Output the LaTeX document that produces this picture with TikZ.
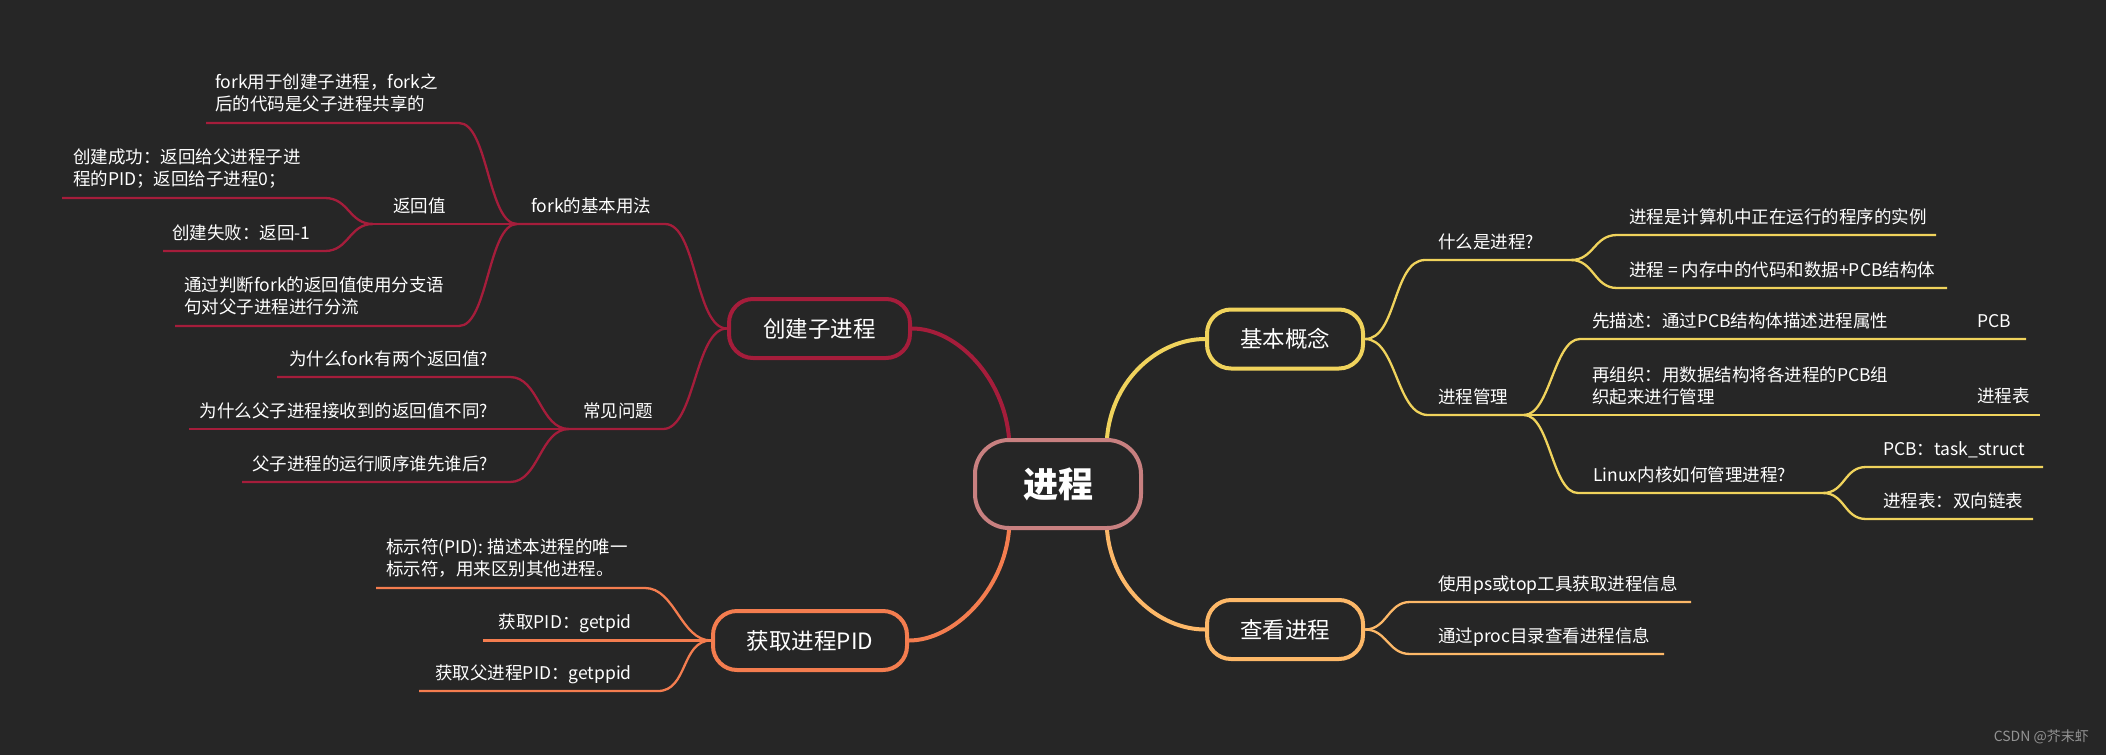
\documentclass[tikz,border=0pt]{standalone}
\usepackage{fontspec}
\setmainfont{Noto Sans CJK SC}
\usetikzlibrary{calc}
\definecolor{bg}{HTML}{262626}
\definecolor{crim}{HTML}{A51D3B}
\definecolor{yel}{HTML}{F0D35C}
\definecolor{lorg}{HTML}{FDB868}
\definecolor{org}{HTML}{F47D4F}
\definecolor{rootc}{HTML}{C88080}
\pgfdeclarelayer{bgl}
\pgfdeclarelayer{lines}
\pgfsetlayers{bgl,lines,main}
\begin{document}
\begin{tikzpicture}[x=1pt,y=-1pt,
  leaf/.style={font=\fontsize{17.5}{22}\selectfont, text=white, inner sep=0pt},
  mlt/.style={leaf, align=left, anchor=north west},
  topic/.style={draw, line width=4pt, rounded corners=24pt, fill=bg, text=white,
    inner sep=0pt, minimum height=59pt, font=\fontsize{22.5}{26}\selectfont},
  mainline/.style={line width=4pt},
  subline/.style={line width=2.3pt},
  wmark/.style={font=\fontsize{14}{16}\selectfont, text=gray!85, inner sep=0pt}]
\begin{pgfonlayer}{bgl}
\fill[bg] (0,0) rectangle (2106,755);
\end{pgfonlayer}
\useasboundingbox (0,0) rectangle (2106,755);

% ---- main nodes ----
\node[draw=rootc, line width=4pt, rounded corners=34pt, fill=bg, text=white, inner sep=0pt,
  minimum width=166pt, minimum height=88pt, font=\fontsize{35}{40}\selectfont\bfseries] (root) at (1058,484) {进程};
\node[topic, draw=crim, minimum width=181pt] (cz) at (819.5,328.5) {创建子进程};
\node[topic, draw=yel, minimum width=156pt] (jb) at (1285,339) {基本概念};
\node[topic, draw=lorg, minimum width=156pt] (ck) at (1285,629.5) {查看进程};
\node[topic, draw=org, minimum width=194pt] (hq) at (810,640.5) {获取进程PID};

% ---- coordinates (underline ends) ----
% basic concepts
\coordinate (q1s) at (1425,260); \coordinate (q1e) at (1571,260);
\coordinate (q1as) at (1617,235); \coordinate (q1ae) at (1936,235);
\coordinate (q1bs) at (1617,288); \coordinate (q1be) at (1947,288);
\coordinate (q2s) at (1428,415); \coordinate (q2e) at (1524,415);
\coordinate (q2as) at (1580,339); \coordinate (q2ae) at (1901,339); \coordinate (pcbE) at (2026,339);
\coordinate (q2be) at (1901,415); \coordinate (tblE) at (2040,415);
\coordinate (q2cs) at (1578,493); \coordinate (q2ce) at (1823,493);
\coordinate (q2c1s) at (1866,467); \coordinate (q2c1e) at (2043,467);
\coordinate (q2c2s) at (1866,519); \coordinate (q2c2e) at (2033,519);
% view process
\coordinate (c1s) at (1410,602); \coordinate (c1e) at (1691,602);
\coordinate (c2s) at (1410,654); \coordinate (c2e) at (1664,654);
% create child
\coordinate (f1e) at (665,224); \coordinate (f1s) at (517,224);
\coordinate (f1ae) at (459,123); \coordinate (f1as) at (206,123);
\coordinate (f1bs) at (373,224);
\coordinate (f1b1e) at (325,198); \coordinate (f1b1s) at (62,198);
\coordinate (f1b2e) at (325,251); \coordinate (f1b2s) at (163,251);
\coordinate (f1ce) at (459,326); \coordinate (f1cs) at (175,326);
\coordinate (f2e) at (663,429); \coordinate (f2s) at (569,429);
\coordinate (f2ae) at (510,377); \coordinate (f2as) at (277,377);
\coordinate (f2bs) at (189,429);
\coordinate (f2ce) at (510,482); \coordinate (f2cs) at (242,482);
% get pid
\coordinate (h1e) at (645,588); \coordinate (h1s) at (376,588);
\coordinate (h2s) at (483,640.5);
\coordinate (h3e) at (658,691); \coordinate (h3s) at (419,691);

\begin{pgfonlayer}{lines}
% root connectors
\draw[mainline, crim] ([xshift=-49pt]root.north) .. controls +(-5,-60) and +(45,0) .. (cz.east);
\draw[mainline, yel] ([xshift=49pt]root.north) .. controls +(5,-60) and +(-45,0) .. (jb.west);
\draw[mainline, org] ([xshift=-49pt]root.south) .. controls +(-5,60) and +(45,0) .. (hq.east);
\draw[mainline, lorg] ([xshift=49pt]root.south) .. controls +(5,60) and +(-45,0) .. (ck.west);
% basic concepts
\draw[subline, yel] (jb.east) .. controls +(32,0) and +(-32,0) .. (q1s) -- (q1e);
\draw[subline, yel] (jb.east) .. controls +(32,0) and +(-32,0) .. (q2s) -- (q2e);
\draw[subline, yel] (q1e) .. controls +(23,0) and +(-23,0) .. (q1as) -- (q1ae);
\draw[subline, yel] (q1e) .. controls +(23,0) and +(-23,0) .. (q1bs) -- (q1be);
\draw[subline, yel] (q2e) .. controls +(26,0) and +(-26,0) .. (q2as) -- (q2ae) -- (pcbE);
\draw[subline, yel] (q2e) -- (q2be) -- (tblE);
\draw[subline, yel] (q2e) .. controls +(26,0) and +(-26,0) .. (q2cs) -- (q2ce);
\draw[subline, yel] (q2ce) .. controls +(22,0) and +(-22,0) .. (q2c1s) -- (q2c1e);
\draw[subline, yel] (q2ce) .. controls +(22,0) and +(-22,0) .. (q2c2s) -- (q2c2e);
% view process
\draw[subline, lorg] (ck.east) .. controls +(22,0) and +(-22,0) .. (c1s) -- (c1e);
\draw[subline, lorg] (ck.east) .. controls +(22,0) and +(-22,0) .. (c2s) -- (c2e);
% create child
\draw[subline, crim] (cz.west) .. controls +(-32,0) and +(32,0) .. (f1e) -- (f1s);
\draw[subline, crim] (f1s) .. controls +(-29,0) and +(29,0) .. (f1ae) -- (f1as);
\draw[subline, crim] (f1s) -- (f1bs);
\draw[subline, crim] (f1bs) .. controls +(-24,0) and +(24,0) .. (f1b1e) -- (f1b1s);
\draw[subline, crim] (f1bs) .. controls +(-24,0) and +(24,0) .. (f1b2e) -- (f1b2s);
\draw[subline, crim] (f1s) .. controls +(-29,0) and +(29,0) .. (f1ce) -- (f1cs);
\draw[subline, crim] (cz.west) .. controls +(-32,0) and +(32,0) .. (f2e) -- (f2s);
\draw[subline, crim] (f2s) .. controls +(-29,0) and +(29,0) .. (f2ae) -- (f2as);
\draw[subline, crim] (f2s) -- (f2bs);
\draw[subline, crim] (f2s) .. controls +(-29,0) and +(29,0) .. (f2ce) -- (f2cs);
% get pid
\draw[subline, org] (hq.west) .. controls +(-30,0) and +(30,0) .. (h1e) -- (h1s);
\draw[subline, org] (hq.west) -- (h2s);
\draw[subline, org] (hq.west) .. controls +(-30,0) and +(30,0) .. (h3e) -- (h3s);
\end{pgfonlayer}

% ---- texts ----
\node[leaf, anchor=base west] (t1) at (1438,248) {什么是进程?};
\node[leaf, anchor=base west] (t1a) at (1629,223) {进程是计算机中正在运行的程序的实例};
\node[leaf, anchor=base west] (t1b) at (1629,276) {进程 = 内存中的代码和数据+PCB结构体};
\node[leaf, anchor=base west] (t2) at (1438,403) {进程管理};
\node[leaf, anchor=base west] (t2a) at (1592,327) {先描述：通过PCB结构体描述进程属性};
\node[leaf, anchor=base west] (pcb) at (1977,327) {PCB};
\node[mlt] (t2b) at (1592,366) {再组织：用数据结构将各进程的PCB组\\织起来进行管理};
\node[leaf, anchor=base west] (tbl) at (1977,402) {进程表};
\node[leaf, anchor=base west] (t2c) at (1593,481) {Linux内核如何管理进程?};
\node[leaf, anchor=base west] (t2c1) at (1883,455) {PCB：task\_struct};
\node[leaf, anchor=base west] (t2c2) at (1883,507) {进程表：双向链表};

\node[leaf, anchor=base west] (c1) at (1438,590) {使用ps或top工具获取进程信息};
\node[leaf, anchor=base west] (c2) at (1438,642) {通过proc目录查看进程信息};

\node[leaf, anchor=base west] (f1) at (531,212) {fork的基本用法};
\node[mlt] (f1a) at (215,74) {fork用于创建子进程，fork之\\后的代码是父子进程共享的};
\node[leaf, anchor=base west] (f1b) at (393,212) {返回值};
\node[mlt] (f1b1) at (73,149) {创建成功：返回给父进程子进\\程的PID；返回给子进程0；};
\node[leaf, anchor=base west] (f1b2) at (172,239) {创建失败：返回-1};
\node[mlt] (f1c) at (184,277) {通过判断fork的返回值使用分支语\\句对父子进程进行分流};
\node[leaf, anchor=base west] (f2) at (583,417) {常见问题};
\node[leaf, anchor=base east] (f2a) at (488,365) {为什么fork有两个返回值?};
\node[leaf, anchor=base east] (f2b) at (488,417) {为什么父子进程接收到的返回值不同?};
\node[leaf, anchor=base east] (f2c) at (488,470) {父子进程的运行顺序谁先谁后?};

\node[mlt] (h1) at (386,539) {标示符(PID): 描述本进程的唯一\\标示符，用来区别其他进程。};
\node[leaf, anchor=base east] (h2) at (632,628) {获取PID：getpid};
\node[leaf, anchor=base east] (h3) at (632,679) {获取父进程PID：getppid};

\node[wmark, anchor=base east] (wm) at (2089,741) {CSDN @芥末虾};
\end{tikzpicture}
\end{document}
